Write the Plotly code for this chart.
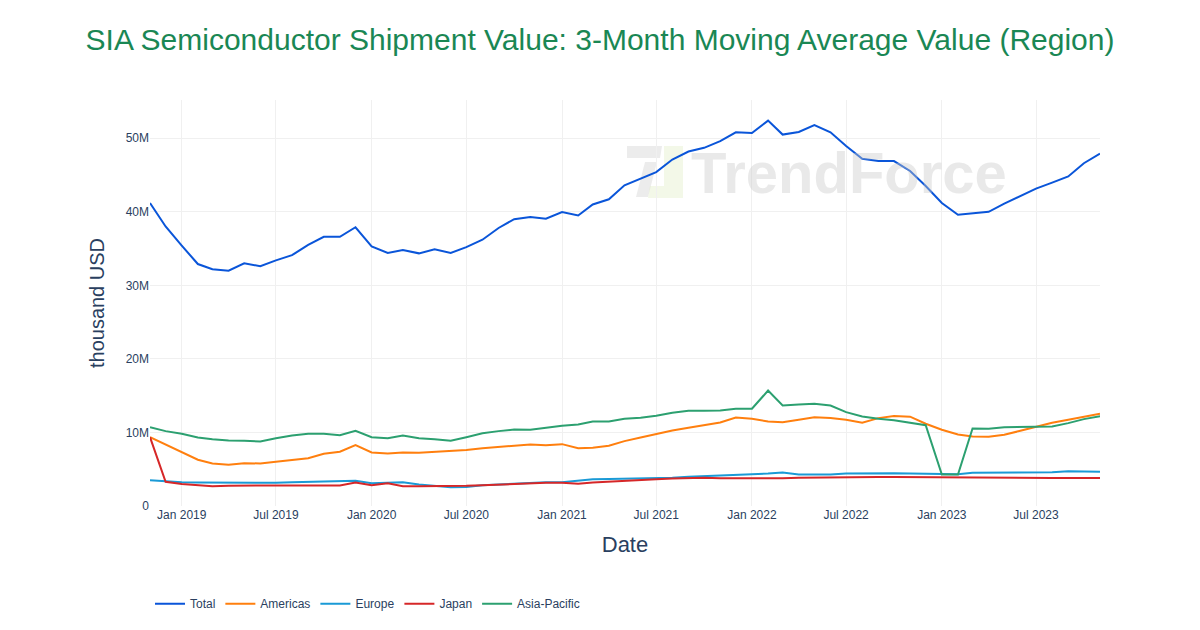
import plotly.graph_objects as go
import pandas as pd

dates = pd.date_range("2018-11-01", "2023-11-01", freq="MS")

total = [41.2, 38.0, 35.4, 32.9, 32.2, 32.0, 33.0, 32.6, 33.4, 34.1,
         35.5, 36.6, 36.6, 37.9, 35.3, 34.4, 34.8, 34.35, 34.9, 34.4,
         35.2, 36.2, 37.8, 39.0, 39.3, 39.05, 39.97, 39.5, 41.0, 41.7,
         43.6, 44.5, 45.4, 47.1, 48.2, 48.7, 49.6, 50.8, 50.7, 52.4,
         50.5, 50.85, 51.8, 50.8, 48.95, 47.2, 46.9, 46.9, 45.55, 43.5,
         41.2, 39.6, 39.8, 40.0, 41.1, 42.15, 43.15, 43.97, 44.8, 46.6, 47.9]

americas = [9.36, 8.37, 7.24, 6.29, 5.78, 5.6, 5.82, 5.78, 6.01, 6.23,
            6.5, 7.1, 7.37, 8.27, 7.28, 7.14, 7.28, 7.24, 7.37, 7.5,
            7.6, 7.86, 8.05, 8.23, 8.37, 8.27, 8.41, 7.86, 7.92, 8.19,
            8.82, 9.32, 9.82, 10.27, 10.64, 10.95, 11.36, 12.04, 11.86, 11.5,
            11.4, 11.73, 12.08, 11.95, 11.73, 11.32, 11.95, 12.22, 12.14, 11.18,
            10.37, 9.73, 9.46, 9.41, 9.69, 10.23, 10.77, 11.32, 11.73, 12.08, 12.54]

europe = [3.51, 3.33, 3.24, 3.2, 3.2, 3.16, 3.1, 3.1, 3.16, 3.24,
          3.29, 3.33, 3.37, 3.42, 3.1, 3.2, 3.24, 2.93, 2.79, 2.56,
          2.6, 2.83, 2.93, 3.02, 3.16, 3.24, 3.24, 3.42, 3.65, 3.67,
          3.7, 3.74, 3.83, 3.85, 3.97, 4.08, 4.2, 4.24, 4.33, 4.42,
          4.56, 4.29, 4.29, 4.29, 4.42, 4.46, 4.46, 4.46, 4.42, 4.4,
          4.38, 4.33, 4.52, 4.52, 4.6, 4.6, 4.6, 4.6, 4.73, 4.73, 4.65]

japan = [9.36, 3.29, 3.0, 2.85, 2.7, 2.75, 2.8, 2.8, 2.8, 2.8,
         2.8, 2.8, 2.8, 3.2, 2.83, 3.1, 2.7, 2.7, 2.7, 2.72,
         2.75, 2.83, 2.93, 3.02, 3.16, 3.16, 3.16, 3.02, 3.2, 3.33,
         3.47, 3.6, 3.65, 3.74, 3.83, 3.83, 3.78, 3.78, 3.78, 3.7,
         3.78, 3.83, 3.87, 3.92, 3.95, 3.95, 3.95, 3.95, 3.93, 3.9,
         3.87, 3.83, 3.8, 3.8, 3.8, 3.8, 3.8, 3.8, 3.8, 3.8, 3.8]

asia_pacific = [10.72, 10.18, 9.82, 9.32, 9.09, 8.91, 8.87, 8.78, 9.22, 9.59,
                9.82, 9.82, 9.63, 10.23, 9.36, 9.22, 9.59, 9.22, 9.09, 8.87,
                9.36, 9.9, 10.18, 10.4, 10.37, 10.68, 10.91, 11.09, 11.5, 11.5,
                11.86, 12.0, 12.27, 12.68, 12.95, 12.95, 12.99, 13.22, 13.22, 15.7,
                13.67, 13.81, 13.9, 13.67, 12.76, 12.18, 11.86, 11.67, 11.32, 10.99,
                4.29, 4.29, 10.54, 10.5, 10.72, 10.72, 10.72, 10.82, 11.27, 11.81, 12.22]

series = [
    ("Total", total, "#0a55d9"),
    ("Americas", americas, "#ff7f0e"),
    ("Europe", europe, "#1a9ad6"),
    ("Japan", japan, "#d62728"),
    ("Asia-Pacific", asia_pacific, "#2ca070"),
]

fig = go.Figure()
for name, vals, color in series:
    fig.add_trace(go.Scatter(
        x=dates, y=[v * 1e6 for v in vals], name=name, mode="lines",
        line=dict(color=color, width=2),
    ))

# Watermark (TrendForce logo, approximated)
PL, PR, PT, PB = 150, 1100, 100, 506
def px(x):
    return (x - PL) / (PR - PL)
def py(y):
    return (PB - y) / (PB - PT)

fig.add_annotation(
    x=px(849), y=py(172), xref="paper", yref="paper", xanchor="center", yanchor="middle",
    text="<b>TrendForce</b>", showarrow=False,
    font=dict(size=58, color="rgba(200,200,200,0.4)", family="Arial"),
)
grey_path = "M {} {} L {} {} L {} {} L {} {} Z".format(px(627), py(146), px(662), py(146), px(660), py(158), px(627), py(158))
grey_diag = "M {} {} L {} {} L {} {} L {} {} Z".format(px(645), py(162), px(657), py(162), px(648), py(197), px(636), py(197))
green_path = ("M {} {} L {} {} L {} {} L {} {} L {} {} L {} {} Z").format(
    px(664), py(146), px(683), py(146), px(683), py(198), px(648), py(198), px(650), py(186), px(664), py(186))
for path, col in [(grey_path, "rgba(200,200,200,0.35)"), (grey_diag, "rgba(200,200,200,0.35)"),
                  (green_path, "rgba(220,235,190,0.35)")]:
    fig.add_shape(type="path", path=path, xref="paper", yref="paper",
                  fillcolor=col, line=dict(width=0), layer="below")

fig.update_layout(
    width=1200, height=630,
    font=dict(family="Arial", color="#2a3f5f"),
    paper_bgcolor="white", plot_bgcolor="white",
    margin=dict(l=150, r=100, t=100, b=124, autoexpand=False),
    title=dict(text="SIA Semiconductor Shipment Value: 3-Month Moving Average Value (Region)",
               x=0.5, xanchor="center", y=0.937, yanchor="middle",
               font=dict(size=30, color="#1a8754")),
    xaxis=dict(
        title=dict(text="Date", font=dict(size=22)),
        range=[dates[0], dates[-1]],
        dtick="M6", tick0="2019-01-01", tickformat="%b %Y",
        showgrid=True, gridcolor="#f0f0f0", zeroline=False,
        tickfont=dict(size=12), automargin=False,
    ),
    yaxis=dict(
        title=dict(text="thousand USD", font=dict(size=20)),
        range=[0, 55.2e6], dtick=10e6, tickformat="~s",
        showgrid=True, gridcolor="#f0f0f0", zeroline=False,
        tickfont=dict(size=12), automargin=False,
    ),
    legend=dict(orientation="h", x=0, xanchor="left", y=-0.205, yanchor="top",
                font=dict(size=12)),
)

fig.write_html("out.html")
